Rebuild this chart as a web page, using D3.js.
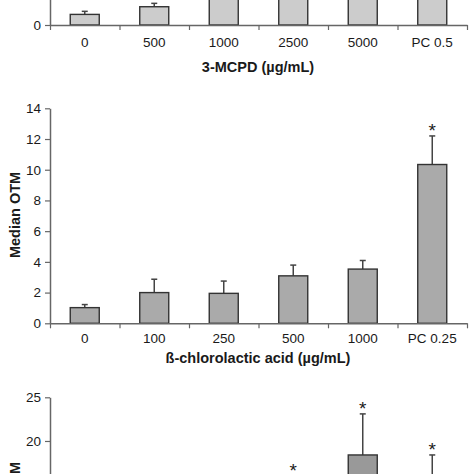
<!DOCTYPE html>
<html>
<head>
<meta charset="utf-8">
<script src="https://cdn.jsdelivr.net/npm/d3@7"></script>
<style>
  body { margin: 0; background: #fff; overflow: hidden; }
  text { font-family: "Liberation Sans", Arial, sans-serif; fill: #1a1a1a; }
</style>
</head>
<body>
<div id="chart"></div>
<script>
// panel 1 : 3-MCPD (only the bottom is in view)
const mcpdDoses = ["0", "500", "1000", "2500", "5000", "PC 0.5"];
const mcpdOtm = [0.69, 1.19, 9.5, 8.8, 9.8, 10.5];
const mcpdUpper = [0.89, 1.41, 10.6, 10.2, 11.0, 12.4];
const mcpdSig = [false, false, false, false, false, true];

// panel 2 : beta-chlorolactic acid
const claDoses = ["0", "100", "250", "500", "1000", "PC 0.25"];
const claOtm = [1.02, 2.0, 1.95, 3.09, 3.53, 10.34];
const claUpper = [1.22, 2.87, 2.75, 3.79, 4.09, 12.2];
const claSig = [false, false, false, false, false, true];

// panel 3 (only the top is in view)
const p3Doses = ["0", "100", "250", "500", "1000", "PC"];
const p3Otm = [1.1, 2.5, 4.0, 11.5, 18.4, 13.0];
const p3Upper = [1.5, 3.5, 5.5, 16.0, 23.1, 18.4];
const p3Sig = [false, false, false, true, true, true];

const width = 474, height = 474;
const xLeft = 50, xRight = 467;
const barW = 29;

const svg = d3.select("#chart").append("svg")
    .attr("width", width)
    .attr("height", height);

// only keep texts that land inside the picture
const inView = v => v >= 4 && v <= height - 4;

function panel(opt) {
  const x = d3.scaleBand().domain(opt.cats).range([xLeft, xRight]).padding(0);
  const y = d3.scaleLinear().domain([0, opt.ymax]).range([opt.zeroY, opt.topY]);
  const g = svg.append("g");

  // y axis
  const yax = g.append("g")
      .attr("transform", `translate(${xLeft},0)`)
      .call(d3.axisLeft(y)
        .tickValues(d3.range(0, opt.ymax + 0.01, opt.step).filter(v => inView(y(v))))
        .tickSize(5).tickSizeOuter(0).tickPadding(4));
  yax.select(".domain").attr("stroke", "#666").attr("stroke-width", 1.5);
  yax.selectAll(".tick line").attr("stroke", "#666").attr("stroke-width", 1.2);
  yax.selectAll(".tick text").style("font-size", "13.5px").attr("fill", "#1a1a1a");

  // bars
  const bars = g.selectAll(".bar").data(opt.cats.map((c, i) => ({
      c: c, v: opt.vals[i], up: opt.upper[i], sig: opt.sig[i] })))
    .join("g");

  bars.append("line")
      .attr("x1", d => x(d.c) + x.bandwidth() / 2)
      .attr("x2", d => x(d.c) + x.bandwidth() / 2)
      .attr("y1", d => y(d.v))
      .attr("y2", d => y(d.up))
      .attr("stroke", "#444").attr("stroke-width", 1.5);
  bars.append("line")
      .attr("x1", d => x(d.c) + x.bandwidth() / 2 - 3)
      .attr("x2", d => x(d.c) + x.bandwidth() / 2 + 3)
      .attr("y1", d => y(d.up))
      .attr("y2", d => y(d.up))
      .attr("stroke", "#444").attr("stroke-width", 1.5);
  bars.append("rect")
      .attr("x", d => x(d.c) + (x.bandwidth() - barW) / 2)
      .attr("width", barW)
      .attr("y", d => y(d.v))
      .attr("height", d => y(0) - y(d.v))
      .attr("fill", opt.fill)
      .attr("stroke", "#333").attr("stroke-width", 1.4);
  bars.filter(d => d.sig && inView(y(d.up) - 9)).append("text")
      .attr("x", d => x(d.c) + x.bandwidth() / 2)
      .attr("y", d => y(d.up) + 1)
      .attr("text-anchor", "middle")
      .style("font-size", "19px")
      .attr("fill", "#555")
      .text("*");

  // x axis: ticks at the band edges, labels in the middle
  const edges = d3.scaleLinear().domain([0, opt.cats.length]).range([xLeft, xRight]);
  const xe = g.append("g")
      .attr("transform", `translate(0,${opt.zeroY})`)
      .call(d3.axisBottom(edges).tickValues(d3.range(opt.cats.length + 1))
        .tickFormat("").tickSize(5).tickSizeOuter(0));
  xe.select(".domain").attr("stroke", "#666").attr("stroke-width", 1.5);
  xe.selectAll(".tick line").attr("stroke", "#666").attr("stroke-width", 1.2);

  if (inView(opt.zeroY + 20)) {
    const xl = g.append("g")
        .attr("transform", `translate(0,${opt.zeroY})`)
        .call(d3.axisBottom(x).tickSize(0).tickPadding(opt.labelPad));
    xl.select(".domain").remove();
    xl.selectAll(".tick text").style("font-size", "13.5px").attr("fill", "#1a1a1a");
  }

  if (opt.xTitle) {
    g.append("text")
        .attr("x", 258)
        .attr("y", opt.zeroY + opt.titleOff)
        .attr("text-anchor", "middle")
        .style("font-size", "14.5px")
        .style("font-weight", "bold")
        .text(opt.xTitle);
  }
  if (opt.yTitleY - 45 < height) {
    g.append("text")
        .attr("transform", `translate(20,${opt.yTitleY}) rotate(-90)`)
        .attr("text-anchor", "middle")
        .style("font-size", "14.5px")
        .style("font-weight", "bold")
        .text("Median OTM");
  }
}

panel({ cats: mcpdDoses, vals: mcpdOtm, upper: mcpdUpper, sig: mcpdSig,
        ymax: 14, step: 2, zeroY: 25, topY: 25 - 215, fill: "#cccccc",
        labelPad: 12, xTitle: "3-MCPD (\u00b5g/mL)", titleOff: 47, yTitleY: 9999 });

panel({ cats: claDoses, vals: claOtm, upper: claUpper, sig: claSig,
        ymax: 14, step: 2, zeroY: 323.3, topY: 108.3, fill: "#aaaaaa",
        labelPad: 10, xTitle: "\u00df-chlorolactic acid (\u00b5g/mL)", titleOff: 40, yTitleY: 215 });

panel({ cats: p3Doses, vals: p3Otm, upper: p3Upper, sig: p3Sig,
        ymax: 25, step: 5, zeroY: 615.7, topY: 397.3, fill: "#999999",
        labelPad: 10, xTitle: null, titleOff: 40, yTitleY: 505 });
</script>
</body>
</html>
